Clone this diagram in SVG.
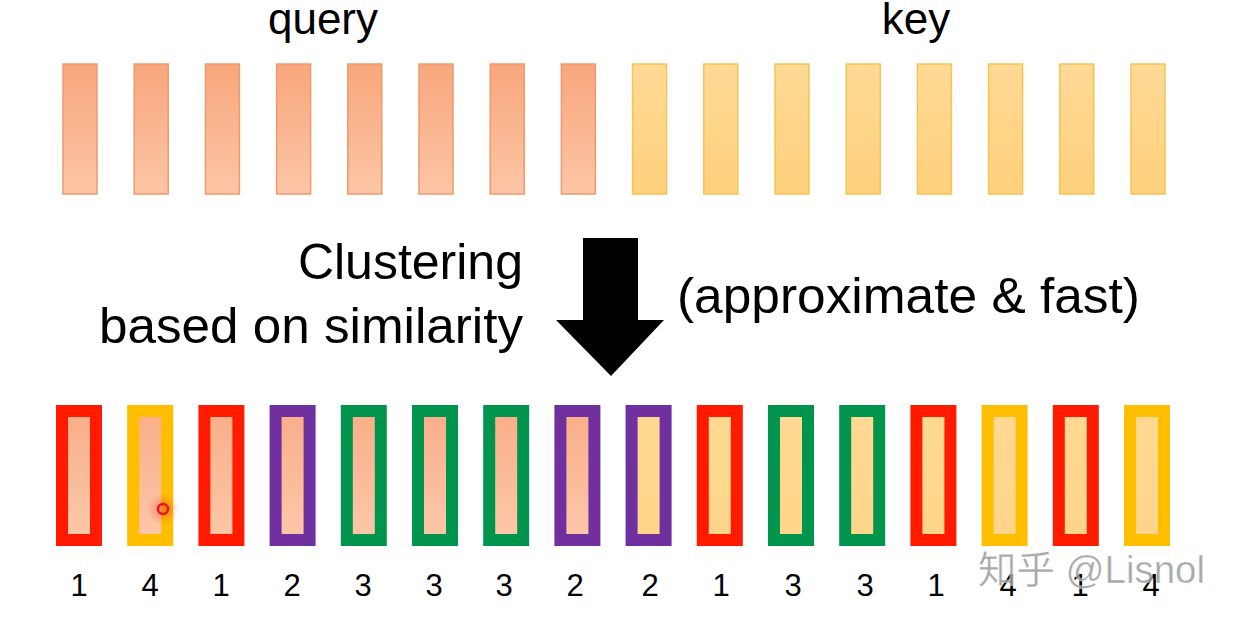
<svg xmlns="http://www.w3.org/2000/svg" width="1234" height="619" viewBox="0 0 1234 619">
<defs>
<linearGradient id="gq" x1="0" y1="0" x2="0" y2="1"><stop offset="0" stop-color="#F9A67C"/><stop offset="1" stop-color="#FCC6A6"/></linearGradient>
<linearGradient id="gk" x1="0" y1="0" x2="0" y2="1"><stop offset="0" stop-color="#FFDA96"/><stop offset="1" stop-color="#FFD07C"/></linearGradient>
<linearGradient id="giq" x1="0" y1="0" x2="0" y2="1"><stop offset="0" stop-color="#F9AE88"/><stop offset="1" stop-color="#FCC8AA"/></linearGradient>
<linearGradient id="gik" x1="0" y1="0" x2="0" y2="1"><stop offset="0" stop-color="#FFD992"/><stop offset="1" stop-color="#FFD58A"/></linearGradient>
<radialGradient id="glow"><stop offset="0" stop-color="#FF3030" stop-opacity="0.45"/><stop offset="1" stop-color="#FF3030" stop-opacity="0"/></radialGradient>
</defs>
<style>
.t{font-family:"Liberation Sans",Arial,sans-serif;fill:#000}
.q{fill:url(#gq);stroke:#EC9A6E;stroke-width:1.5}
.k{fill:url(#gk);stroke:#F6C454;stroke-width:1.5}
.bq{fill:url(#giq)}
.bk{fill:url(#gik)}
.b{stroke-width:12}
.r{stroke:#FF1A00}.o{stroke:#FFBE00}.p{stroke:#7030A0}.g{stroke:#00944C}
.n{font-family:"Liberation Sans",Arial,sans-serif;font-size:31px;text-anchor:middle;fill:#000}
</style>
<rect width="1234" height="619" fill="#fff"/>
<g id="labels">
<text class="t" x="323" y="34" font-size="44" text-anchor="middle">query</text>
<text class="t" x="916" y="34" font-size="44" text-anchor="middle">key</text>
<text class="t" x="523" y="279" font-size="50" text-anchor="end">Clustering</text>
<text class="t" x="99" y="343" font-size="50" textLength="424" lengthAdjust="spacingAndGlyphs">based on similarity</text>
<text class="t" x="677" y="313" font-size="50" textLength="463" lengthAdjust="spacingAndGlyphs">(approximate &amp; fast)</text>
</g>
<g id="query-row">
<g id="q1"><rect class="q" x="63" y="64" width="34" height="130"/></g>
<g id="q2"><rect class="q" x="134.2" y="64" width="34" height="130"/></g>
<g id="q3"><rect class="q" x="205.4" y="64" width="34" height="130"/></g>
<g id="q4"><rect class="q" x="276.6" y="64" width="34" height="130"/></g>
<g id="q5"><rect class="q" x="347.8" y="64" width="34" height="130"/></g>
<g id="q6"><rect class="q" x="419" y="64" width="34" height="130"/></g>
<g id="q7"><rect class="q" x="490.2" y="64" width="34" height="130"/></g>
<g id="q8"><rect class="q" x="561.4" y="64" width="34" height="130"/></g>
</g>
<g id="key-row">
<g id="k1"><rect class="k" x="632.6" y="64" width="34" height="130"/></g>
<g id="k2"><rect class="k" x="703.8" y="64" width="34" height="130"/></g>
<g id="k3"><rect class="k" x="775" y="64" width="34" height="130"/></g>
<g id="k4"><rect class="k" x="846.2" y="64" width="34" height="130"/></g>
<g id="k5"><rect class="k" x="917.4" y="64" width="34" height="130"/></g>
<g id="k6"><rect class="k" x="988.6" y="64" width="34" height="130"/></g>
<g id="k7"><rect class="k" x="1059.8" y="64" width="34" height="130"/></g>
<g id="k8"><rect class="k" x="1131" y="64" width="34" height="130"/></g>
</g>
<g id="connectors">
<path d="M583,238 H638 V320 H664 L611,376 L556,320 H583 Z" fill="#000"/>
</g>
<g id="clustered-row">
<g id="c1"><rect class="b bq r" x="62" y="411" width="34" height="129"/><text class="n" x="79" y="596">1</text></g>
<g id="c2"><rect class="b bq o" x="133.2" y="411" width="34" height="129"/><text class="n" x="150" y="596">4</text></g>
<g id="c3"><rect class="b bq r" x="204.4" y="411" width="34" height="129"/><text class="n" x="221" y="596">1</text></g>
<g id="c4"><rect class="b bq p" x="275.6" y="411" width="34" height="129"/><text class="n" x="292" y="596">2</text></g>
<g id="c5"><rect class="b bq g" x="346.8" y="411" width="34" height="129"/><text class="n" x="363" y="596">3</text></g>
<g id="c6"><rect class="b bq g" x="418" y="411" width="34" height="129"/><text class="n" x="434" y="596">3</text></g>
<g id="c7"><rect class="b bq g" x="489.2" y="411" width="34" height="129"/><text class="n" x="504" y="596">3</text></g>
<g id="c8"><rect class="b bq p" x="560.4" y="411" width="34" height="129"/><text class="n" x="575" y="596">2</text></g>
<g id="c9"><rect class="b bk p" x="631.6" y="411" width="34" height="129"/><text class="n" x="650" y="596">2</text></g>
<g id="c10"><rect class="b bk r" x="702.8" y="411" width="34" height="129"/><text class="n" x="721" y="596">1</text></g>
<g id="c11"><rect class="b bk g" x="774" y="411" width="34" height="129"/><text class="n" x="793" y="596">3</text></g>
<g id="c12"><rect class="b bk g" x="845.2" y="411" width="34" height="129"/><text class="n" x="865" y="596">3</text></g>
<g id="c13"><rect class="b bk r" x="916.4" y="411" width="34" height="129"/><text class="n" x="936" y="596">1</text></g>
<g id="c14"><rect class="b bk o" x="987.6" y="411" width="34" height="129"/><text class="n" x="1008" y="596">4</text></g>
<g id="c15"><rect class="b bk r" x="1058.8" y="411" width="34" height="129"/><text class="n" x="1080" y="596">1</text></g>
<g id="c16"><rect class="b bk o" x="1130" y="411" width="34" height="129"/><text class="n" x="1151" y="596">4</text></g>
</g>
<g id="cursor">
<circle cx="163" cy="509" r="16" fill="url(#glow)"/>
<circle cx="163" cy="509" r="5" fill="none" stroke="#E8141E" stroke-width="2.5"/>
</g>
<g id="watermark">
<text x="978" y="583" font-size="38" font-family="'Liberation Sans','Noto Sans CJK SC',sans-serif" fill="#9A9A9A" fill-opacity="0.85" stroke="#fff" stroke-width="0.6" stroke-opacity="0.6" textLength="227" lengthAdjust="spacingAndGlyphs">知乎 @Lisnol</text>
</g>
</svg>
